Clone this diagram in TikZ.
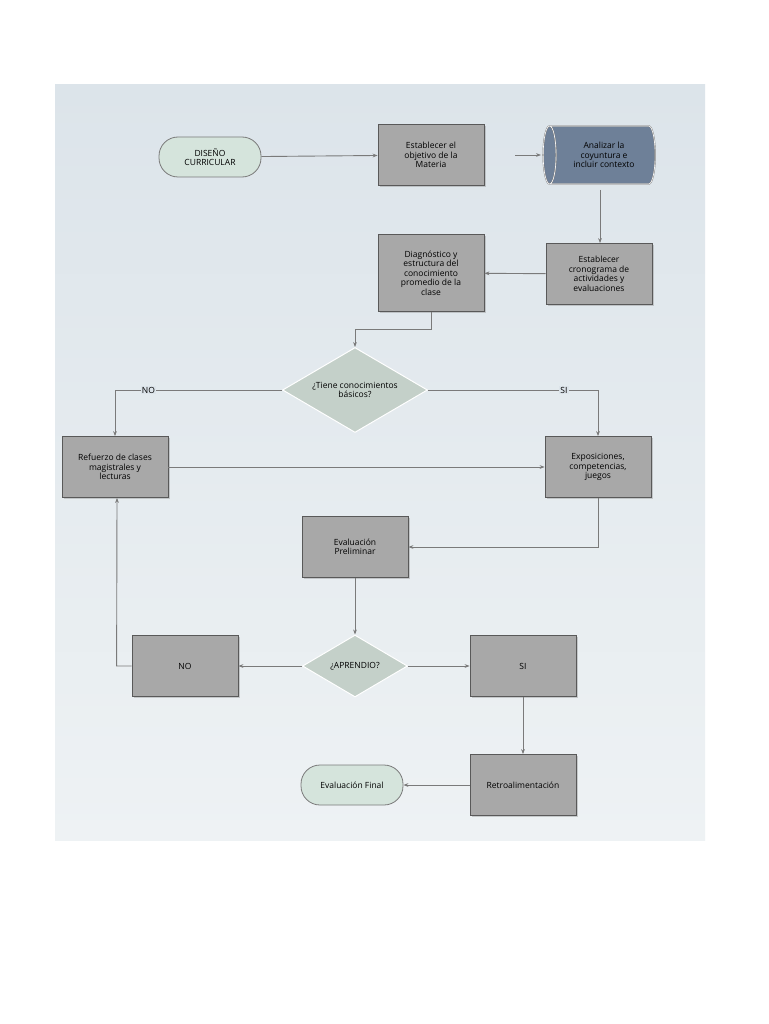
\documentclass[tikz,border=0pt]{standalone}
\usepackage{fontspec}
\setmainfont{Open Sans}
\usetikzlibrary{shapes.geometric,arrows.meta,shadows}
\definecolor{boxg}{HTML}{A8A8A8}
\definecolor{pill}{HTML}{D5E4DC}
\definecolor{cyl}{HTML}{6E8098}
\definecolor{ln}{HTML}{7A7A7A}
\definecolor{bgt}{HTML}{DCE4EA}
\definecolor{bgb}{HTML}{EEF2F4}
\begin{document}
\begin{tikzpicture}[x=1pt,y=-1pt,
 box/.style={draw=gray!70!black,line width=0.8pt,fill=boxg,minimum width=106pt,minimum height=61pt,align=center,font=\fontsize{8.5}{9.5}\selectfont,drop shadow={shadow xshift=1.5pt,shadow yshift=-1.5pt,opacity=0.35}},
 pil/.style={draw=ln,line width=0.8pt,fill=pill,rounded corners=19pt,minimum width=102pt,minimum height=40pt,align=center,font=\fontsize{8.5}{9.5}\selectfont},
 dia/.style={diamond,draw=white,line width=1pt,fill=pill!80!gray,aspect=1.75,inner sep=0pt,align=center,font=\fontsize{8.5}{9.5}\selectfont},
 ar/.style={draw=ln,line width=0.9pt,-{Stealth[length=5pt]}},
 lb/.style={font=\fontsize{8.5}{9.5}\selectfont,fill=bgt,inner sep=1pt}]
\useasboundingbox (0,0) rectangle (768,1024);
\fill[white] (0,0) rectangle (768,1024);
\shade[top color=bgt, bottom color=bgb] (55,85) rectangle (705,840);
\node[pil] (a) at (210,157) {DISEÑO\\CURRICULAR};
\node[box] (b) at (431,155) {Establecer el\\objetivo de la\\Materia};
\node[cylinder,shape border rotate=180,draw=ln,double=white,fill=cyl,minimum width=58pt,minimum height=112pt,aspect=0.4,align=center,font=\fontsize{8.5}{9.5}\selectfont] (c) at (604,155) {Analizar la\\coyuntura e\\incluir contexto};
\node[box] (d) at (599,274) {Establecer\\cronograma de\\actividades y\\evaluaciones};
\node[box,minimum height=77pt] (e) at (431,273) {Diagnóstico y\\estructura del\\conocimiento\\promedio de la\\clase};
\node[dia,minimum width=145pt,minimum height=85pt] (f) at (355,390) {¿Tiene conocimientos\\básicos?};
\node[box] (g) at (115,467) {Refuerzo de clases\\magistrales y\\lecturas};
\node[box] (h) at (598,467) {Exposiciones,\\competencias,\\juegos};
\node[box] (i) at (355,547) {Evaluación\\Preliminar};
\node[dia,minimum width=105pt,minimum height=62pt] (j) at (355,666) {¿APRENDIO?};
\node[box] (k) at (185,666) {NO};
\node[box] (l) at (523,666) {SI};
\node[box] (m) at (523,785) {Retroalimentación};
\node[pil] (n) at (352,785) {Evaluación Final};
\coordinate (p1) at (515,155);
\coordinate (p2) at (541,155);
\coordinate (p3) at (600,190);
\draw[ar] (a) -- (b);
\draw[ar] (p1) -- (p2);
\draw[ar] (p3) -- (p3 |- d.north);
\draw[ar] (d) -- (e);
\draw[ar] (e.south) -- ++(0,18) -| (f.north);
\draw[ar] (f.west) -| node[lb,pos=0.4]{NO} (g.north);
\draw[ar] (f.east) -| node[lb,pos=0.4]{SI} (h.north);
\draw[ar] (g) -- (h);
\draw[ar] (h.south) |- (i.east);
\draw[ar] (i) -- (j);
\draw[ar] (j) -- (k);
\draw[ar] (j) -- (l);
\draw[ar] (k.west) -- ++(-15,0) -- (g.south -| 117,0);
\draw[ar] (l) -- (m);
\draw[ar] (m) -- (n);
\end{tikzpicture}
\end{document}
